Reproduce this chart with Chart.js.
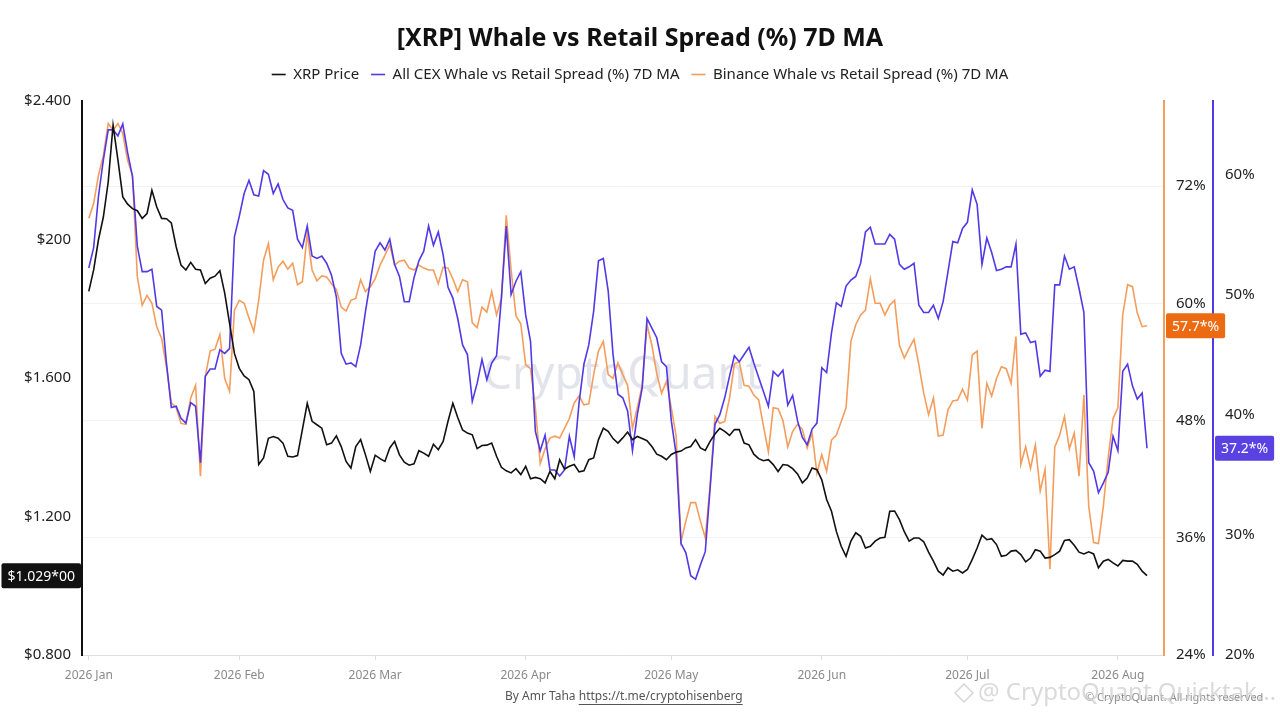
<!DOCTYPE html>
<html>
<head>
<meta charset="utf-8">
<title>[XRP] Whale vs Retail Spread (%) 7D MA</title>
<script src="https://cdn.jsdelivr.net/npm/chart.js@4.4.1/dist/chart.umd.min.js"></script>
<style>
    html, body { margin: 0; padding: 0; background: #fff; }
    #wrap { width: 1280px; height: 720px; }
</style>
</head>
<body>
<div id="wrap"><canvas id="spreadChart" width="1280" height="720"></canvas></div>
<script>
"use strict";

// x axis: day index from 2026-01-01, month ticks
var monthStarts = [0, 31, 59, 90, 120, 151, 181, 212];
var monthLabels = ["2026 Jan", "2026 Feb", "2026 Mar", "2026 Apr", "2026 May", "2026 Jun", "2026 Jul", "2026 Aug"];

// y axis ticks (labels copied as shown on the source chart)
var priceTicks = [0.8, 1.2, 1.6, 2.0, 2.4];
var priceTickLabels = ["$0.800", "$1.200", "$1.600", "$200", "$2.400"];
var binanceTicks = [24, 36, 48, 60, 72];
var allCexTicks = [20, 30, 40, 50, 60];

// daily values, 2026-01-01 .. 2026-08-07
var xrpPrice = [
    1.850, 1.912, 2.000, 2.065, 2.166, 2.330, 2.230, 2.123, 2.102, 2.089,
    2.083, 2.061, 2.075, 2.142, 2.094, 2.061, 2.060, 2.048, 1.979, 1.926,
    1.912, 1.934, 1.914, 1.912, 1.873, 1.888, 1.894, 1.910, 1.845, 1.758,
    1.671, 1.628, 1.606, 1.595, 1.561, 1.350, 1.369, 1.426, 1.431, 1.426,
    1.412, 1.374, 1.372, 1.376, 1.451, 1.527, 1.475, 1.465, 1.455, 1.407,
    1.412, 1.433, 1.402, 1.359, 1.340, 1.402, 1.422, 1.378, 1.330, 1.377,
    1.367, 1.359, 1.398, 1.417, 1.378, 1.357, 1.348, 1.352, 1.390, 1.383,
    1.374, 1.409, 1.393, 1.417, 1.475, 1.527, 1.486, 1.450, 1.441, 1.436,
    1.396, 1.405, 1.406, 1.412, 1.374, 1.342, 1.332, 1.326, 1.338, 1.321,
    1.345, 1.309, 1.313, 1.309, 1.297, 1.330, 1.309, 1.364, 1.337, 1.345,
    1.350, 1.329, 1.332, 1.364, 1.369, 1.422, 1.455, 1.446, 1.425, 1.412,
    1.427, 1.444, 1.422, 1.431, 1.425, 1.419, 1.402, 1.380, 1.374, 1.364,
    1.379, 1.386, 1.389, 1.398, 1.402, 1.422, 1.398, 1.391, 1.417, 1.438,
    1.455, 1.446, 1.434, 1.451, 1.451, 1.412, 1.407, 1.380, 1.367, 1.361,
    1.364, 1.350, 1.330, 1.350, 1.348, 1.338, 1.323, 1.297, 1.311, 1.340,
    1.335, 1.306, 1.249, 1.215, 1.157, 1.114, 1.085, 1.129, 1.153, 1.143,
    1.109, 1.114, 1.129, 1.138, 1.140, 1.215, 1.216, 1.191, 1.156, 1.129,
    1.138, 1.138, 1.127, 1.097, 1.071, 1.042, 1.031, 1.052, 1.042, 1.046,
    1.037, 1.047, 1.076, 1.109, 1.146, 1.133, 1.136, 1.119, 1.085, 1.088,
    1.100, 1.102, 1.090, 1.069, 1.080, 1.104, 1.100, 1.080, 1.082, 1.090,
    1.100, 1.131, 1.133, 1.117, 1.097, 1.092, 1.098, 1.092, 1.052, 1.071,
    1.076, 1.066, 1.057, 1.073, 1.071, 1.071, 1.062, 1.042, 1.029
];

var allCexSpread = [
    52.2, 53.9, 58.2, 61.2, 63.7, 63.7, 63.2, 64.2, 61.8, 59.8,
    54.0, 51.9, 51.9, 52.1, 49.0, 48.7, 44.3, 40.6, 40.7, 39.7,
    39.3, 41.0, 40.7, 36.0, 43.2, 43.8, 43.8, 45.4, 45.1, 45.5,
    54.8, 56.5, 58.4, 59.5, 58.3, 58.2, 60.3, 60.0, 58.4, 59.2,
    57.9, 57.2, 57.0, 54.6, 53.9, 55.7, 53.2, 53.0, 53.2, 52.6,
    51.6, 49.8, 45.1, 44.2, 44.3, 44.0, 45.8, 48.6, 51.1, 53.6,
    54.3, 53.7, 54.6, 52.5, 51.5, 49.4, 49.4, 51.4, 52.8, 53.6,
    55.7, 54.1, 55.2, 53.3, 50.6, 49.7, 48.0, 45.8, 45.0, 41.1,
    42.6, 44.6, 42.9, 44.3, 44.9, 49.7, 55.7, 50.0, 51.1, 51.9,
    48.3, 46.1, 38.6, 37.0, 38.3, 35.4, 35.4, 34.9, 35.4, 38.2,
    36.5, 41.0, 44.2, 45.8, 48.6, 52.8, 53.0, 50.3, 45.0, 41.7,
    41.4, 40.3, 37.0, 40.0, 42.2, 48.0, 47.2, 46.4, 44.4, 44.0,
    39.5, 36.7, 29.3, 28.5, 26.6, 26.3, 27.5, 28.6, 33.9, 39.2,
    40.0, 41.4, 43.2, 44.9, 44.4, 45.0, 45.6, 44.3, 43.1, 41.9,
    40.7, 43.6, 43.2, 43.7, 40.8, 41.6, 39.5, 38.1, 37.5, 38.8,
    39.3, 43.9, 43.5, 46.8, 49.3, 49.0, 50.7, 51.2, 51.5, 52.6,
    55.2, 55.6, 54.2, 54.2, 54.2, 55.0, 54.6, 52.5, 52.1, 52.3,
    52.6, 49.1, 48.5, 48.5, 49.1, 48.0, 49.4, 51.9, 54.4, 54.3,
    55.5, 56.0, 58.7, 57.5, 52.5, 54.7, 53.5, 52.0, 52.1, 52.3,
    52.3, 54.2, 46.7, 46.8, 46.0, 46.1, 43.2, 43.7, 43.6, 50.8,
    50.8, 53.2, 52.1, 52.3, 50.5, 48.5, 36.0, 35.3, 33.5, 34.3,
    35.2, 38.2, 37.0, 43.6, 44.2, 42.4, 41.3, 41.8, 37.2
];

var binanceSpread = [
    68.7, 70.2, 73.1, 75.1, 78.4, 77.7, 78.4, 77.4, 74.6, 73.1,
    62.7, 59.8, 60.8, 60.0, 57.6, 56.4, 53.5, 49.8, 49.3, 47.7,
    47.6, 50.3, 51.6, 42.3, 52.5, 55.1, 55.3, 56.8, 52.3, 51.0,
    59.3, 60.3, 60.0, 58.5, 57.1, 60.3, 64.4, 66.1, 62.4, 63.7,
    64.3, 63.5, 64.1, 61.9, 62.2, 67.1, 63.4, 62.3, 62.8, 62.7,
    62.0, 61.4, 59.6, 59.2, 60.3, 60.5, 62.4, 61.2, 61.7, 62.5,
    63.9, 64.9, 66.0, 63.9, 64.3, 64.4, 63.6, 63.4, 63.9, 63.6,
    63.4, 63.4, 62.0, 63.7, 63.6, 62.5, 61.2, 62.4, 62.2, 58.0,
    57.5, 59.6, 59.1, 61.2, 58.8, 60.5, 69.0, 63.4, 58.7, 57.9,
    53.7, 53.3, 49.3, 43.6, 45.1, 46.2, 46.4, 46.2, 47.2, 48.2,
    49.8, 50.5, 49.6, 49.7, 52.7, 55.1, 56.1, 52.7, 52.3, 53.9,
    52.7, 51.6, 47.2, 49.3, 51.6, 57.8, 55.7, 52.8, 50.8, 52.0,
    49.3, 46.4, 35.6, 37.7, 39.6, 39.6, 37.7, 36.0, 41.4, 48.4,
    47.7, 47.9, 50.3, 53.8, 54.0, 51.6, 51.5, 50.6, 50.1, 47.4,
    44.8, 49.3, 49.2, 48.0, 45.3, 46.9, 47.6, 47.1, 45.2, 46.7,
    42.6, 44.5, 42.8, 46.0, 46.5, 47.9, 49.3, 56.1, 57.8, 58.8,
    59.3, 62.5, 60.0, 60.0, 58.8, 59.8, 60.3, 55.7, 54.4, 55.4,
    56.3, 53.7, 50.8, 48.6, 50.3, 46.4, 46.5, 49.1, 50.0, 50.1,
    51.2, 50.1, 54.7, 55.1, 47.2, 51.8, 50.5, 52.3, 53.5, 53.3,
    51.8, 56.6, 43.5, 45.3, 43.1, 45.5, 40.8, 43.0, 32.8, 45.3,
    46.5, 48.4, 45.1, 46.7, 42.3, 50.6, 39.2, 35.5, 35.4, 39.2,
    44.2, 48.2, 49.3, 58.8, 61.9, 61.7, 59.0, 57.6, 57.7
];

var FONT = "'Noto Sans', 'Open Sans', sans-serif";
var COLOR_PRICE = "#111111";
var COLOR_ALL = "#5139e6";
var COLOR_BIN = "#f59d5c";
var TAG_ALL = "#5a41e2";
var TAG_BIN = "#ec6b12";

Chart.defaults.font.family = FONT;

function toPoints(values) {
    return values.map(function(v, i) {
        return { x: i, y: v };
    });
}

function setTicks(values) {
    return function(scale) {
        scale.ticks = values.map(function(v) {
            return { value: v };
        });
    };
}

function fixWidth(w) {
    return function(scale) {
        scale.width = w;
    };
}

function drawTag(ctx, text, x, y, bg, alignRight) {
    ctx.font = "14px " + FONT;
    var w = ctx.measureText(text).width + 12;
    var h = 25;
    var left = alignRight ? x - w : x;
    ctx.fillStyle = bg;
    ctx.beginPath();
    ctx.roundRect(left, y - h / 2, w, h, 2);
    ctx.fill();
    ctx.fillStyle = "#ffffff";
    ctx.textAlign = "center";
    ctx.textBaseline = "middle";
    ctx.fillText(text, left + w / 2, y + 1);
}

// a bit of extra room under the legend row
var legendSpacer = {
    id: "legendSpacer",
    beforeInit: function(chart) {
        var fit = chart.legend.fit;
        chart.legend.fit = function() {
            fit.call(this);
            this.height += 9;
        };
    }
};

var overlayPlugin = {
    id: "overlay",
    beforeDatasetsDraw: function(chart) {
        var ctx = chart.ctx;
        ctx.save();
        ctx.font = "46px " + FONT;
        ctx.fillStyle = "rgba(220, 220, 230, 0.8)";
        ctx.textAlign = "left";
        ctx.textBaseline = "alphabetic";
        ctx.fillText("CryptoQuant", 483, 389);
        ctx.restore();
    },
    afterDraw: function(chart) {
        var ctx = chart.ctx;
        var s = chart.scales;
        ctx.save();

        // last value tags
        var lastPrice = xrpPrice[xrpPrice.length - 1];
        var lastAll = allCexSpread[allCexSpread.length - 1];
        var lastBin = binanceSpread[binanceSpread.length - 1];
        drawTag(ctx, "$" + lastPrice.toFixed(3) + "*00", s.yPrice.right - 1, s.yPrice.getPixelForValue(lastPrice), "#111111", true);
        drawTag(ctx, lastBin.toFixed(1) + "*%", s.yBin.left + 2, s.yBin.getPixelForValue(lastBin), TAG_BIN, false);
        drawTag(ctx, lastAll.toFixed(1) + "*%", s.yAll.left + 2, s.yAll.getPixelForValue(lastAll), TAG_ALL, false);

        // author footer
        ctx.font = "12px " + FONT;
        ctx.fillStyle = "#555555";
        ctx.textAlign = "left";
        ctx.textBaseline = "middle";
        var by = "By Amr Taha ";
        var url = "https://t.me/cryptohisenberg";
        var byW = ctx.measureText(by).width;
        var urlW = ctx.measureText(url).width;
        var fx = 505;
        ctx.fillText(by, fx, 697);
        ctx.fillText(url, fx + byW, 697);
        ctx.strokeStyle = "#555555";
        ctx.lineWidth = 1;
        ctx.beginPath();
        ctx.moveTo(fx + byW, 704.5);
        ctx.lineTo(fx + byW + urlW, 704.5);
        ctx.stroke();

        // platform watermark bottom right
        ctx.font = "11px " + FONT;
        ctx.fillStyle = "#8c8c8c";
        ctx.fillText("\u00a9 CryptoQuant. All rights reserved", 1085, 698);
        ctx.strokeStyle = "rgba(205, 205, 205, 0.8)";
        ctx.lineWidth = 1.5;
        ctx.beginPath();
        ctx.moveTo(964, 684);
        ctx.lineTo(973, 693);
        ctx.lineTo(964, 702);
        ctx.lineTo(955, 693);
        ctx.closePath();
        ctx.stroke();
        ctx.font = "24px " + FONT;
        ctx.fillStyle = "rgba(205, 205, 205, 0.75)";
        ctx.fillText("@ CryptoQuant Quicktak...", 978, 693);

        ctx.restore();
    }
};

var ctx = document.getElementById("spreadChart");

new Chart(ctx, {
    type: "line",
    data: {
        datasets: [{
            label: "XRP Price",
            data: toPoints(xrpPrice),
            yAxisID: "yPrice",
            borderColor: COLOR_PRICE,
            backgroundColor: COLOR_PRICE,
            borderWidth: 1.6,
            pointRadius: 0,
            tension: 0
        }, {
            label: "All CEX Whale vs Retail Spread (%) 7D MA",
            data: toPoints(allCexSpread),
            yAxisID: "yAll",
            borderColor: COLOR_ALL,
            backgroundColor: COLOR_ALL,
            borderWidth: 1.6,
            pointRadius: 0,
            tension: 0
        }, {
            label: "Binance Whale vs Retail Spread (%) 7D MA",
            data: toPoints(binanceSpread),
            yAxisID: "yBin",
            borderColor: COLOR_BIN,
            backgroundColor: COLOR_BIN,
            borderWidth: 1.6,
            pointRadius: 0,
            tension: 0
        }]
    },
    options: {
        responsive: false,
        animation: false,
        layout: {
            padding: { top: 0, right: 0, bottom: 30, left: 0 }
        },
        plugins: {
            title: {
                display: true,
                text: "[XRP] Whale vs Retail Spread (%) 7D MA",
                color: "#111111",
                font: { size: 25, weight: "bold" },
                padding: { top: 24, bottom: 1 }
            },
            legend: {
                display: true,
                labels: {
                    usePointStyle: true,
                    pointStyle: "line",
                    pointStyleWidth: 14,
                    color: "#222222",
                    font: { size: 15 },
                    padding: 12
                }
            },
            tooltip: { enabled: false }
        },
        scales: {
            x: {
                type: "linear",
                min: -1.4,
                max: 221.5,
                afterBuildTicks: setTicks(monthStarts),
                afterFit: function(scale) { scale.height = 35; },
                ticks: {
                    autoSkip: false,
                    maxRotation: 0,
                    color: "#8a8a8a",
                    font: { size: 12 },
                    padding: 8,
                    callback: function(value, index) { return monthLabels[index]; }
                },
                grid: {
                    drawOnChartArea: false,
                    drawTicks: true,
                    tickLength: 5,
                    color: "#dcdde6"
                },
                border: { color: "#dcdde6", width: 1 }
            },
            yPrice: {
                type: "linear",
                position: "left",
                min: 0.8,
                max: 2.4,
                afterBuildTicks: setTicks(priceTicks),
                afterFit: fixWidth(82),
                ticks: {
                    color: "#222222",
                    font: { size: 15 },
                    padding: 11,
                    callback: function(value, index) { return priceTickLabels[index]; }
                },
                grid: { display: false, drawTicks: false },
                border: { display: true, color: "#111111", width: 2 }
            },
            yBin: {
                type: "linear",
                position: "right",
                weight: 0,
                min: 24,
                max: 80.7,
                afterBuildTicks: setTicks(binanceTicks),
                afterFit: fixWidth(49),
                ticks: {
                    color: "#222222",
                    font: { size: 15 },
                    padding: 12,
                    callback: function(value) { return value + "%"; }
                },
                grid: { color: "#f2f2f4", drawTicks: false },
                border: { display: true, color: COLOR_BIN, width: 2 }
            },
            yAll: {
                type: "linear",
                position: "right",
                weight: 1,
                min: 20,
                max: 66.1,
                afterBuildTicks: setTicks(allCexTicks),
                afterFit: fixWidth(67),
                ticks: {
                    color: "#222222",
                    font: { size: 15 },
                    padding: 12,
                    callback: function(value) { return value + "%"; }
                },
                grid: { display: false, drawTicks: false },
                border: { display: true, color: COLOR_ALL, width: 2 }
            }
        }
    },
    plugins: [legendSpacer, overlayPlugin]
});
</script>
</body>
</html>
